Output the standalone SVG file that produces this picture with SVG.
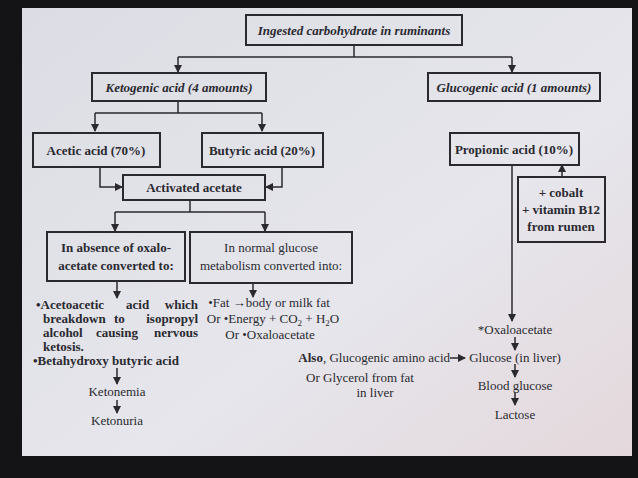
<svg xmlns="http://www.w3.org/2000/svg" width="638" height="478" viewBox="0 0 638 478">
<defs>
<marker id="ah" markerWidth="8" markerHeight="8" refX="7" refY="4" orient="auto" markerUnits="userSpaceOnUse"><path d="M0,0 L8,4 L0,8 z" fill="#2a2a2e"/></marker>
<linearGradient id="bg" x1="0" y1="0" x2="1" y2="1"><stop offset="0" stop-color="#dcdce4"/><stop offset="0.6" stop-color="#e6e6ec"/><stop offset="1" stop-color="#e4d8dc"/></linearGradient>
</defs>
<style>
text{font-family:"Liberation Serif","Times New Roman",serif;font-size:13px;fill:#2a2a30}
.b{font-weight:bold}
.bi{font-weight:bold;font-style:italic}
.box{fill:none;stroke:#2a2a2e;stroke-width:2}
.ln{fill:none;stroke:#2a2a2e;stroke-width:1.5}
.a{marker-end:url(#ah)}
</style>
<rect width="638" height="478" fill="#141416"/>
<rect x="22" y="8" width="610" height="448" fill="url(#bg)"/>
<g id="connectors">
<path class="ln" d="M354,45 V57 M178,57 H512"/>
<path class="ln a" d="M178,57 V72"/><path class="ln a" d="M512,57 V72"/>
<path class="ln" d="M178,101 V113 M95,113 H262"/>
<path class="ln a" d="M95,113 V131"/><path class="ln a" d="M262,113 V131"/>
<path class="ln a" d="M100,167 V187 H122"/>
<path class="ln a" d="M282,167 V187 H266"/>
<path class="ln" d="M190,200 V212 M115,212 H265"/>
<path class="ln a" d="M115,212 V231"/><path class="ln a" d="M265,212 V231"/>
<path class="ln a" d="M117,281 V298"/><path class="ln a" d="M253,283 V297"/>
<path class="ln a" d="M117,368 V384"/><path class="ln a" d="M117,400 V413"/>
<path class="ln a" d="M562,177 V165"/>
<path class="ln a" d="M512,165 V321"/>
<path class="ln a" d="M515,337 V350"/><path class="ln a" d="M515,364 V377"/><path class="ln a" d="M515,392 V405"/>
<path class="ln a" d="M450,358 H465"/>
</g>
<g id="title"><rect class="box" x="246" y="15" width="216" height="30"/><text class="bi" x="354" y="35" text-anchor="middle">Ingested carbohydrate in ruminants</text></g>
<g id="keto"><rect class="box" x="92" y="73" width="174" height="28"/><text class="bi" x="179" y="92" text-anchor="middle">Ketogenic acid (4 amounts)</text></g>
<g id="gluco"><rect class="box" x="428" y="73" width="172" height="28"/><text class="bi" x="514" y="92" text-anchor="middle">Glucogenic acid (1 amounts)</text></g>
<g id="acetic"><rect class="box" x="33" y="133" width="127" height="34"/><text class="b" x="96" y="155" text-anchor="middle">Acetic acid (70%)</text></g>
<g id="butyric"><rect class="box" x="202" y="133" width="121" height="34"/><text class="b" x="262" y="155" text-anchor="middle">Butyric acid (20%)</text></g>
<g id="propionic"><rect class="box" x="450" y="133" width="129" height="32"/><text class="b" x="514" y="154" text-anchor="middle">Propionic acid (10%)</text></g>
<g id="activated"><rect class="box" x="123" y="175" width="142" height="25"/><text class="b" x="194" y="192" text-anchor="middle">Activated acetate</text></g>
<g id="absence"><rect class="box" x="47" y="232" width="138" height="49"/><text class="b" x="116" y="252" text-anchor="middle">In absence of oxalo-</text><text class="b" x="116" y="270" text-anchor="middle">acetate converted to:</text></g>
<g id="normal"><rect class="box" x="190" y="232" width="162" height="51"/><text x="271" y="252" text-anchor="middle">In normal glucose</text><text x="271" y="270" text-anchor="middle">metabolism converted into:</text></g>
<g id="cobalt"><rect class="box" x="518" y="177" width="87" height="65"/><text class="b" x="561" y="197" text-anchor="middle">+ cobalt</text><text class="b" x="561" y="214" text-anchor="middle">+ vitamin B12</text><text class="b" x="561" y="231" text-anchor="middle">from rumen</text></g>
<g id="ketone-text">
<text class="b" x="36" y="309">•Acetoacetic</text><text class="b" x="126" y="309">acid</text><text class="b" x="198" y="309" text-anchor="end">which</text>
<text class="b" x="43" y="323">breakdown</text><text class="b" x="114" y="323">to</text><text class="b" x="198" y="323" text-anchor="end">isopropyl</text>
<text class="b" x="43" y="337">alcohol</text><text class="b" x="96" y="337">causing</text><text class="b" x="198" y="337" text-anchor="end">nervous</text>
<text class="b" x="43" y="351">ketosis.</text>
<text class="b" x="33" y="365">•Betahydroxy butyric acid</text>
<text x="117" y="396" text-anchor="middle">Ketonemia</text>
<text x="117" y="425" text-anchor="middle">Ketonuria</text>
</g>
<g id="normal-text">
<text x="269" y="307" text-anchor="middle">•Fat →body or milk fat</text>
<text x="273" y="323" text-anchor="middle">Or •Energy + CO<tspan font-size="9" dy="3">2</tspan><tspan dy="-3"> + H</tspan><tspan font-size="9" dy="3">2</tspan><tspan dy="-3">O</tspan></text>
<text x="270" y="339" text-anchor="middle">Or •Oxaloacetate</text>
</g>
<g id="gluco-chain">
<text x="515" y="334" text-anchor="middle">*Oxaloacetate</text>
<text x="515" y="362" text-anchor="middle">Glucose (in liver)</text>
<text x="515" y="390" text-anchor="middle">Blood glucose</text>
<text x="515" y="419" text-anchor="middle">Lactose</text>
<text x="450" y="362" text-anchor="end"><tspan class="b">Also</tspan>, Glucogenic amino acid</text>
<text x="360" y="382" text-anchor="middle">Or Glycerol from fat</text>
<text x="375" y="397" text-anchor="middle">in liver</text>
</g>
</svg>
